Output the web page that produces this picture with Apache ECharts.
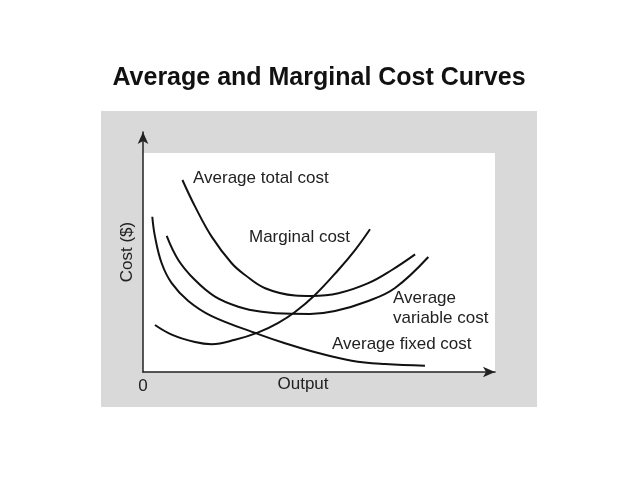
<!DOCTYPE html>
<html>
<head>
<meta charset="utf-8">
<script src="https://cdn.jsdelivr.net/npm/echarts@6/dist/echarts.min.js"></script>
<style>
html,body{margin:0;padding:0;background:#fff;}
#chart{width:638px;height:478px;}
</style>
</head>
<body>
<div id="chart"></div>
<script>
// Output (0-100) vs Cost (0-100)
var averageTotalCost = [[11.2,80.0],[14.8,68.9],[19.5,56.4],[25.2,45.3],[29.0,40.4],[34.7,34.9],[43.2,31.9],[47.9,31.7],[55.5,32.8],[64.0,37.0],[70.7,42.5],[77.3,49.0]];
var marginalCost = [[3.41,19.6],[8.15,15.6],[14.77,12.5],[19.52,11.6],[26.14,13.4],[32.76,16.5],[38.44,20.5],[43.18,25.0],[48.86,32.1],[55.48,42.5],[60.23,50.8],[64.49,59.5]];
var averageVariableCost = [[6.73,56.7],[10.03,46.7],[14.77,38.3],[20.45,31.4],[27.07,27.2],[33.72,25.1],[42.24,24.25],[47.44,24.2],[54.55,25.4],[64.0,29.6],[71.6,35.0],[81.05,47.9]];
var averageFixedCost = [[2.64,64.7],[3.41,56.4],[5.31,45.3],[8.15,37.0],[12.87,29.6],[19.52,23.3],[32.76,15.8],[40.34,12.0],[49.8,7.9],[59.3,4.7],[68.75,3.3],[80.1,2.6]];
var titleText = 'Average and Marginal Cost Curves';
var xName = 'Output';
var yName = 'Cost ($)';
var curveLabels = ['Average total cost','Marginal cost','Average\nvariable cost','Average fixed cost'];

var FONT = '"Liberation Sans", Arial, sans-serif';
var chart = echarts.init(document.getElementById('chart'));
function lineSeries(name, data){
  return {name:name,type:'line',data:data,smooth:0.4,showSymbol:false,symbol:'none',
    lineStyle:{color:'#111',width:2},z:5,silent:true};
}
var txt = {fontFamily:FONT,fontSize:17,fill:'#222'};
chart.setOption({
  animation:false,
  backgroundColor:'#fff',
  title:{text:titleText,left:'center',top:61,textStyle:{fontFamily:FONT,fontSize:25,fontWeight:'bold',color:'#111'}},
  grid:{left:143,top:132,width:352,height:240,containLabel:false},
  xAxis:{type:'value',min:0,max:100,
    axisLine:{show:true,symbol:['none','arrow'],symbolSize:[8,12],lineStyle:{color:'#222',width:1.5}},
    axisTick:{show:false},splitLine:{show:false},
    axisLabel:{show:true,margin:6,fontFamily:FONT,fontSize:17,color:'#222',showMinLabel:true,showMaxLabel:false,
      formatter:function(v){return v===0?'0':'';}}},
  yAxis:{type:'value',min:0,max:100,name:yName,nameLocation:'middle',nameGap:7,nameRotate:90,
    nameTextStyle:{fontFamily:FONT,fontSize:17,color:'#222'},
    axisLine:{show:true,symbol:['none','arrow'],symbolSize:[8,12],lineStyle:{color:'#222',width:1.5}},
    axisTick:{show:false},splitLine:{show:false},axisLabel:{show:false}},
  graphic:[
    {type:'rect',z:-100,shape:{x:101,y:111,width:436,height:296},style:{fill:'#d9d9d9'},silent:true},
    {type:'rect',z:-99,shape:{x:143,y:153,width:352,height:219},style:{fill:'#ffffff'},silent:true},
    {type:'text',x:303,y:384,style:Object.assign({text:xName,textAlign:'center',textVerticalAlign:'middle'},txt)},
    {type:'text',x:193,y:178,style:Object.assign({text:curveLabels[0],textAlign:'left',textVerticalAlign:'middle'},txt)},
    {type:'text',x:249,y:237,style:Object.assign({text:curveLabels[1],textAlign:'left',textVerticalAlign:'middle'},txt)},
    {type:'text',x:393,y:308,style:Object.assign({text:curveLabels[2],textAlign:'left',textVerticalAlign:'middle',lineHeight:20},txt)},
    {type:'text',x:332,y:344,style:Object.assign({text:curveLabels[3],textAlign:'left',textVerticalAlign:'middle'},txt)}
  ],
  series:[
    lineSeries('Average total cost',averageTotalCost),
    lineSeries('Marginal cost',marginalCost),
    lineSeries('Average variable cost',averageVariableCost),
    lineSeries('Average fixed cost',averageFixedCost)
  ]
});
</script>
</body>
</html>
